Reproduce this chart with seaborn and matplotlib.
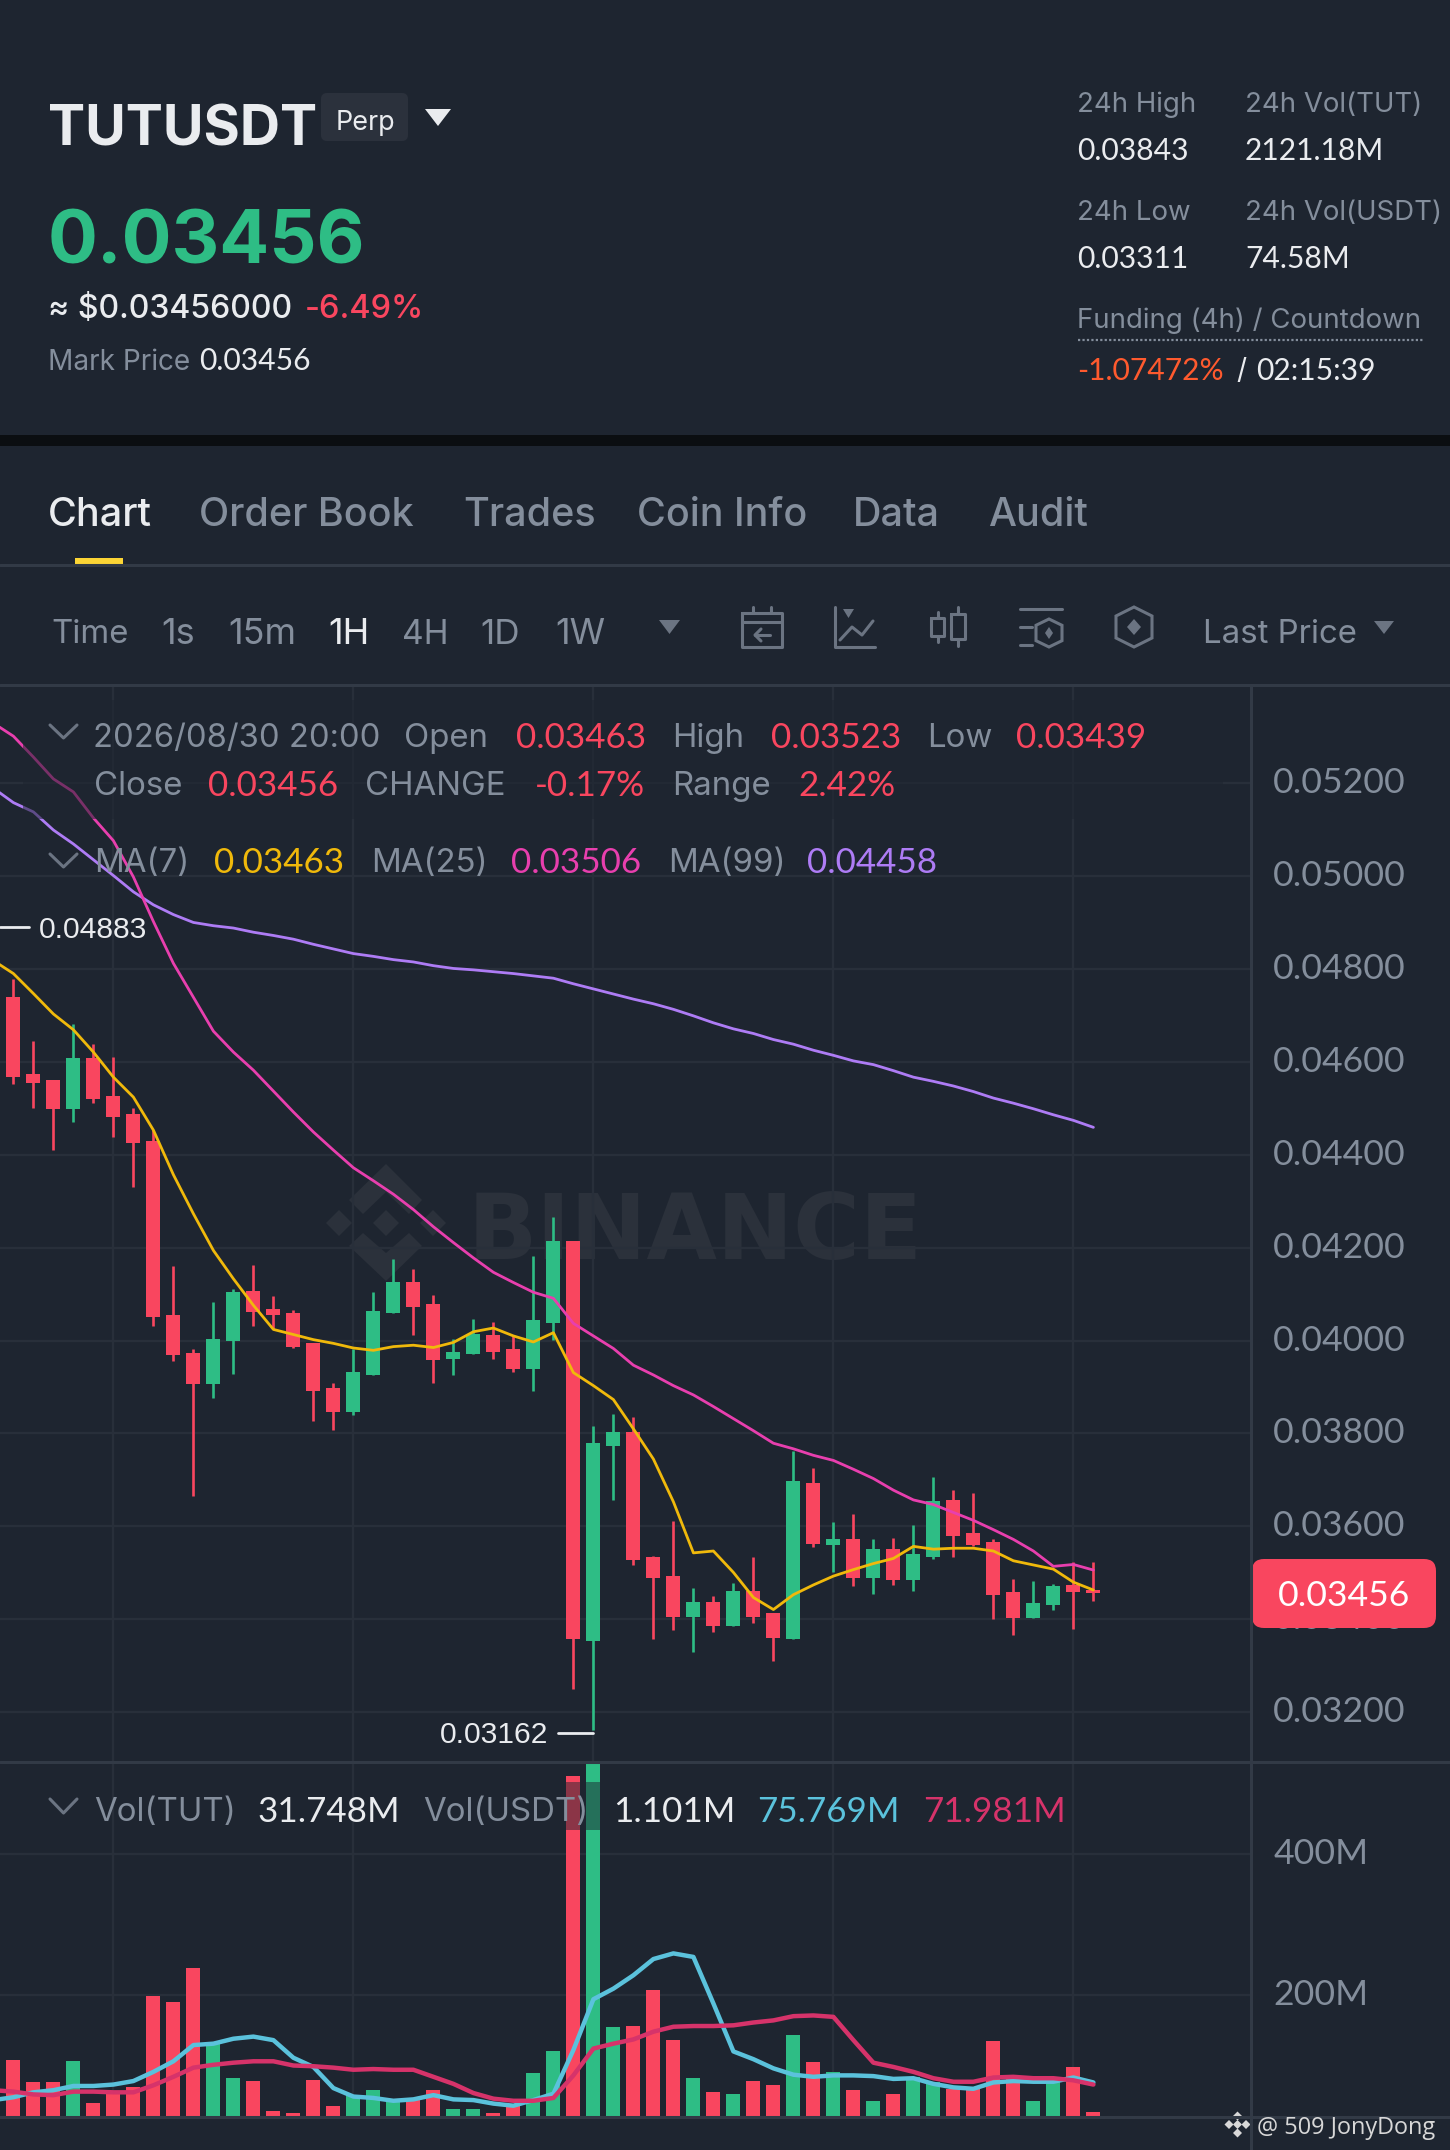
import numpy as np
import pandas as pd
import matplotlib
matplotlib.use("Agg")
import matplotlib.pyplot as plt
import seaborn as sns
from matplotlib.patches import FancyBboxPatch, Polygon, Rectangle
from matplotlib.transforms import ScaledTranslation

# Chart data -------------------------------------------------------------------
candle_idx = list(range(-1, 55))
open_prices = [0.04840, 0.04739, 0.04573, 0.04560, 0.04498, 0.04609, 0.04526, 0.04487, 0.04430, 0.04056,
               0.03973, 0.03906, 0.03998, 0.04107, 0.04069, 0.04060, 0.03994, 0.03897, 0.03846, 0.03926,
               0.04060, 0.04127, 0.04078, 0.03961, 0.03972, 0.04012, 0.03981, 0.03938, 0.04037, 0.04215,
               0.03353, 0.03773, 0.03803, 0.03534, 0.03493, 0.03404, 0.03438, 0.03385, 0.03461, 0.03413,
               0.03358, 0.03694, 0.03561, 0.03572, 0.03489, 0.03551, 0.03484, 0.03534, 0.03657, 0.03586,
               0.03566, 0.03459, 0.03403, 0.03430, 0.03474, 0.03463]
close_prices = [0.04734, 0.04567, 0.04554, 0.04498, 0.04609, 0.04521, 0.04482, 0.04426, 0.04051, 0.03970,
                0.03906, 0.04003, 0.04104, 0.04062, 0.04054, 0.03987, 0.03892, 0.03846, 0.03933, 0.04063,
                0.04127, 0.04073, 0.03958, 0.03976, 0.04015, 0.03975, 0.03938, 0.04044, 0.04215, 0.03358,
                0.03779, 0.03804, 0.03527, 0.03488, 0.03404, 0.03438, 0.03385, 0.03461, 0.03406, 0.03360,
                0.03697, 0.03562, 0.03572, 0.03489, 0.03551, 0.03484, 0.03541, 0.03655, 0.03580, 0.03560,
                0.03453, 0.03403, 0.03435, 0.03471, 0.03458, 0.03456]
high_prices = [0.04883, 0.04779, 0.04644, 0.04560, 0.04681, 0.04638, 0.04610, 0.04500, 0.04453, 0.04161,
               0.03981, 0.04084, 0.04112, 0.04163, 0.04097, 0.04065, 0.03994, 0.03908, 0.03981, 0.04104,
               0.04175, 0.04153, 0.04099, 0.04003, 0.04046, 0.04039, 0.04009, 0.04183, 0.04267, 0.04215,
               0.03816, 0.03843, 0.03835, 0.03537, 0.03611, 0.03468, 0.03450, 0.03478, 0.03534, 0.03413,
               0.03763, 0.03726, 0.03610, 0.03627, 0.03572, 0.03576, 0.03604, 0.03706, 0.03678, 0.03672,
               0.03572, 0.03486, 0.03483, 0.03476, 0.03524, 0.03523]
low_prices = [0.04734, 0.04552, 0.04501, 0.04411, 0.04470, 0.04511, 0.04439, 0.04331, 0.04031, 0.03955,
              0.03666, 0.03876, 0.03928, 0.04031, 0.04024, 0.03983, 0.03826, 0.03807, 0.03840, 0.03926,
              0.04060, 0.04012, 0.03908, 0.03925, 0.03972, 0.03961, 0.03933, 0.03891, 0.04001, 0.03251,
              0.03162, 0.03657, 0.03517, 0.03358, 0.03376, 0.03330, 0.03372, 0.03385, 0.03392, 0.03311,
              0.03358, 0.03556, 0.03501, 0.03471, 0.03455, 0.03474, 0.03461, 0.03530, 0.03534, 0.03557,
              0.03401, 0.03367, 0.03403, 0.03421, 0.03379, 0.03439]
ma7_prices = [0.04818, 0.04790, 0.04747, 0.04703, 0.04669, 0.04621, 0.04567, 0.04524, 0.04453, 0.04357,
              0.04273, 0.04194, 0.04133, 0.04076, 0.04024, 0.04013, 0.04002, 0.03994, 0.03984, 0.03979,
              0.03987, 0.03990, 0.03985, 0.03996, 0.04019, 0.04027, 0.04010, 0.03997, 0.04017, 0.03931,
              0.03903, 0.03873, 0.03810, 0.03745, 0.03653, 0.03543, 0.03547, 0.03501, 0.03447, 0.03421,
              0.03453, 0.03474, 0.03493, 0.03507, 0.03520, 0.03531, 0.03557, 0.03551, 0.03553, 0.03553,
              0.03547, 0.03526, 0.03517, 0.03508, 0.03480, 0.03463]
ma25_prices = [0.05329, 0.05301, 0.05256, 0.05209, 0.05181, 0.05125, 0.05076, 0.04998, 0.04902, 0.04812,
               0.04739, 0.04666, 0.04621, 0.04582, 0.04537, 0.04492, 0.04449, 0.04410, 0.04372, 0.04344,
               0.04315, 0.04282, 0.04245, 0.04211, 0.04178, 0.04147, 0.04125, 0.04104, 0.04091, 0.04037,
               0.04010, 0.03983, 0.03947, 0.03926, 0.03903, 0.03883, 0.03858, 0.03832, 0.03806, 0.03779,
               0.03767, 0.03753, 0.03742, 0.03723, 0.03703, 0.03678, 0.03657, 0.03647, 0.03630, 0.03613,
               0.03593, 0.03572, 0.03547, 0.03514, 0.03518, 0.03506]
ma99_prices = [0.05189, 0.05158, 0.05138, 0.05099, 0.05069, 0.05035, 0.05001, 0.04966, 0.04938, 0.04917,
               0.04900, 0.04893, 0.04888, 0.04879, 0.04872, 0.04864, 0.04853, 0.04843, 0.04833, 0.04827,
               0.04820, 0.04815, 0.04807, 0.04801, 0.04798, 0.04794, 0.04790, 0.04785, 0.04780, 0.04768,
               0.04757, 0.04746, 0.04735, 0.04725, 0.04713, 0.04699, 0.04684, 0.04671, 0.04661, 0.04648,
               0.04638, 0.04625, 0.04614, 0.04602, 0.04594, 0.04581, 0.04567, 0.04558, 0.04548, 0.04536,
               0.04522, 0.04511, 0.04499, 0.04486, 0.04474, 0.04459]
volumes = [41, 108, 77, 77, 106, 47, 60, 70, 198, 190,
           239, 131, 83, 78, 35, 32, 80, 43, 58, 65,
           51, 53, 65, 39, 39, 32, 46, 89, 121, 510,
           560, 154, 156, 207, 136, 82, 63, 59, 78, 72,
           143, 105, 91, 65, 50, 60, 84, 77, 67, 67,
           135, 84, 50, 77, 98, 34]
vol_ma_fast = [51, 55, 62, 65, 71, 71, 73, 78, 91, 106,
               129, 131, 138, 141, 136, 111, 98, 68, 56, 54,
               50, 52, 58, 52, 51, 46, 43, 51, 60, 122,
               194, 209, 228, 251, 259, 254, 188, 120, 109, 96,
               87, 84, 86, 86, 85, 81, 82, 74, 69, 67,
               76, 78, 77, 77, 83, 76]
vol_ma_slow = [65, 63, 59, 58, 63, 63, 62, 62, 72, 84,
               97, 101, 104, 106, 106, 100, 99, 97, 94, 95,
               94, 94, 84, 74, 61, 53, 50, 50, 54, 86,
               124, 131, 137, 148, 155, 156, 156, 157, 161, 164,
               170, 171, 169, 136, 104, 98, 91, 82, 77, 77,
               83, 84, 82, 82, 79, 73]
price_ticks = [0.032, 0.034, 0.036, 0.038, 0.040, 0.042, 0.044, 0.046, 0.048, 0.050, 0.052]
vol_ticks = [200, 400]
time_grid_idx = [5, 17, 29, 41, 53]

# Colours ------------------------------------------------------------------------
BG = "#1e2530"
GRID = "#282f3a"
LINE = "#323a46"
GREY = "#848e9c"
ICON = "#6b7482"
WHITE = "#eaecef"
GREEN = "#2ebd85"
RED = "#f9465f"
YELLOW = "#f0b90b"
PINK = "#e83fae"
PURPLE = "#ae7cf5"
CYAN = "#5bc2dc"
CRIMSON = "#d6336a"
NUM = "Lato"

W, H = 1450, 2150
PANE_RIGHT = 1251

sns.set_theme(style="dark", rc={"figure.facecolor": BG, "axes.facecolor": BG, "axes.grid": False})
plt.rcParams["font.family"] = ["Inter", "DejaVu Sans"]


def pane(top, bottom):
    # axes placed by pixel rows of the final picture
    ax = fig.add_axes([0, 1 - bottom / H, PANE_RIGHT / W, (bottom - top) / H])
    ax.patch.set_alpha(0)
    ax.set_zorder(1)
    sns.despine(ax=ax, left=True, bottom=True, right=True, top=True)
    return ax


def style_pane(ax, ticks, labels, lim):
    ax.set_xlim(-0.67, 61.88)
    ax.set_ylim(*lim)
    ax.set_xticks(time_grid_idx)
    ax.set_xticklabels([])
    ax.set_yticks(ticks)
    ax.set_yticklabels(labels)
    ax.yaxis.tick_right()
    ax.tick_params(axis="both", length=0)
    ax.tick_params(axis="y", labelsize=35.5 * 0.72, labelcolor=GREY, pad=16)
    # labels sit a little above their grid line
    lift = ScaledTranslation(0, 3 / 100, fig.dpi_scale_trans)
    for lab in ax.get_yticklabels():
        lab.set_family(NUM)
        lab.set_transform(lab.get_transform() + lift)
    ax.grid(True, color=GRID, lw=1.7, zorder=0)
    ax.set_axisbelow(True)
    ax.set_xlabel("")
    ax.set_ylabel("")


def txt(target, x, y, s, px, color=GREY, weight="normal", ha="left", **kw):
    return target.text(x, y, s, fontsize=px * 0.72, color=color, fontweight=weight, ha=ha, va="center_baseline", **kw)


def num(target, x, y, s, px, color=WHITE, weight="normal", ha="left"):
    return txt(target, x, y, s, px, color, weight, ha, family=NUM)


def hexagon(cx, cy, w, h):
    return [(cx, cy - h), (cx + w, cy - h * 0.55), (cx + w, cy + h * 0.55),
            (cx, cy + h), (cx - w, cy + h * 0.55), (cx - w, cy - h * 0.55)]


def diamond(cx, cy, w, h):
    return [(cx, cy - h), (cx + w, cy), (cx, cy + h), (cx - w, cy)]


fig = plt.figure(figsize=(W / 100, H / 100), dpi=100)

# Pixel canvas under the panes: watermark only ------------------------------------
under = fig.add_axes([0, 0, 1, 1])
under.set_xlim(0, W)
under.set_ylim(H, 0)
under.axis("off")
under.set_zorder(0)
MARK = "#2b313b"
for pts in ([(386, 1164), (422, 1200), (409, 1214), (386, 1192), (363, 1214), (349, 1200)],
            [(386, 1281), (422, 1246), (409, 1233), (386, 1253), (363, 1233), (349, 1246)]):
    under.add_patch(Polygon(pts, closed=True, color=MARK, lw=0))
for cx in (339, 386, 433):
    under.add_patch(Polygon(diamond(cx, 1223, 13, 13), closed=True, color=MARK, lw=0))
under.text(468, 1224, "BINANCE", fontsize=91 * 0.72, fontweight="bold", color=MARK, va="center_baseline",
           family="DejaVu Sans")

# Price pane -----------------------------------------------------------------------
ax = pane(686, 1761)
prices = pd.DataFrame({"idx": candle_idx, "open": open_prices, "high": high_prices, "low": low_prices,
                       "close": close_prices, "ma7": ma7_prices, "ma25": ma25_prices, "ma99": ma99_prices})
prices["color"] = np.where(prices["close"] >= prices["open"], GREEN, RED)
ax.vlines(prices["idx"], prices["low"], prices["high"], colors=prices["color"], lw=1.9, zorder=2)
ax.bar(prices["idx"], (prices["close"] - prices["open"]).abs(), bottom=prices[["open", "close"]].min(axis=1),
       width=0.7, color=prices["color"], linewidth=0, zorder=3)
for col, color in (("ma99", PURPLE), ("ma25", PINK), ("ma7", YELLOW)):
    sns.lineplot(data=prices, x="idx", y=col, color=color, lw=2.0, ax=ax, errorbar=None, legend=False, zorder=4)
style_pane(ax, price_ticks, [f"{t:.5f}" for t in price_ticks], (0.03095, 0.05409))

# Volume pane ----------------------------------------------------------------------
ax_vol = pane(1763, 2117)
vol_df = pd.DataFrame({"idx": candle_idx, "vol": volumes, "color": prices["color"],
                       "fast": vol_ma_fast, "slow": vol_ma_slow})
sns.barplot(data=vol_df, x="idx", y="vol", hue="color", palette={GREEN: GREEN, RED: RED}, native_scale=True,
            width=0.7, dodge=False, saturation=1, legend=False, linewidth=0, ax=ax_vol, zorder=2)
sns.lineplot(data=vol_df, x="idx", y="fast", color=CYAN, lw=3.2, ax=ax_vol, errorbar=None, legend=False, zorder=4)
sns.lineplot(data=vol_df, x="idx", y="slow", color=CRIMSON, lw=3.2, ax=ax_vol, errorbar=None, legend=False, zorder=5)
style_pane(ax_vol, vol_ticks, [f"{t}M" for t in vol_ticks], (27, 529))

# Pixel canvas over the panes: page furniture --------------------------------------
top = fig.add_axes([0, 0, 1, 1])
top.set_xlim(0, W)
top.set_ylim(H, 0)
top.axis("off")
top.patch.set_alpha(0)
top.set_zorder(2)

# legend backdrops dim whatever runs behind them
top.add_patch(Rectangle((23, 700), 1200, 119, color=BG, alpha=0.55, lw=0))
top.add_patch(Rectangle((566, 1782), 84, 48, color=BG, alpha=0.5, lw=0))

# separators
top.add_patch(Rectangle((0, 435), W, 11, color="#0b0e11", lw=0))
for y in (565, 685, 1762, 2117):
    top.plot([0, W], [y, y], color=LINE, lw=2.2)
top.plot([PANE_RIGHT, PANE_RIGHT], [686, H], color=LINE, lw=2.2)
top.add_patch(Rectangle((75, 558), 48, 9, color="#fcd535", lw=0))

# header
txt(top, 48, 125, "TUTUSDT", 55.7, WHITE, "bold")
top.add_patch(FancyBboxPatch((325, 97), 79, 40, boxstyle="round,pad=4,rounding_size=6", color="#2b313c", lw=0))
txt(top, 365, 120, "Perp", 27, WHITE, ha="center")
top.add_patch(Polygon([(425, 109), (451, 109), (438, 126)], closed=True, color=WHITE, lw=0))
txt(top, 48, 236, "0.03456", 74, GREEN, "bold")
txt(top, 48, 306, "≈ $0.03456000", 32, WHITE, "medium")
txt(top, 305, 306, "-6.49%", 32.5, RED, "medium")
txt(top, 48, 359, "Mark Price", 28)
num(top, 199, 359, "0.03456", 30)
for x, label, value in ((1077, "24h High", "0.03843"), (1245, "24h Vol(TUT)", "2121.18M")):
    txt(top, x, 102, label, 27.6)
    num(top, x, 149, value, 30)
for x, label, value in ((1077, "24h Low", "0.03311"), (1245, "24h Vol(USDT)", "74.58M")):
    txt(top, x, 210, label, 27.6)
    num(top, x, 257, value, 30)
txt(top, 1077, 318, "Funding (4h) / Countdown", 27.6)
top.plot([1078, 1423], [340, 340], color=GREY, lw=1.6, ls=(0, (1, 1)))
num(top, 1077, 368, "-1.07472%", 30, "#ff5a2e")
txt(top, 1236, 368, "/", 28, WHITE)
num(top, 1256, 368, "02:15:39", 30)

# tabs
for x, label in ((48, "Chart"), (199, "Order Book"), (463, "Trades"), (637, "Coin Info"), (853, "Data"), (988, "Audit")):
    txt(top, x, 512, label, 39.5, WHITE if label == "Chart" else GREY, "medium")

# toolbar
for x, label, size in ((51, "Time", 33), (161, "1s", 36), (228, "15m", 36), (328, "1H", 36),
                       (402, "4H", 33.5), (480, "1D", 35), (555, "1W", 36)):
    txt(top, x, 631, label, size, WHITE if label == "1H" else GREY)
txt(top, 1203, 631, "Last Price", 33)
top.add_patch(Polygon([(659, 620), (680, 620), (669.5, 634)], closed=True, color=ICON, lw=0))
top.add_patch(Polygon([(1374, 621), (1394, 621), (1384, 634)], closed=True, color=ICON, lw=0))

# toolbar icons
icon = dict(color=ICON, lw=2.2, solid_capstyle="round", solid_joinstyle="round")
top.plot([742, 782, 782, 742, 742], [613, 613, 647, 647, 613], **icon)
top.plot([742, 782], [622, 622], **icon)
top.plot([753, 753], [607, 613], **icon)
top.plot([771, 771], [607, 613], **icon)
top.plot([770, 755], [635, 635], **icon)
top.plot([761, 755, 761], [629, 635, 641], **icon)
top.plot([835, 835, 875], [607, 647, 647], **icon)
top.add_patch(Polygon([(843, 609), (854, 609), (848.5, 618)], closed=True, color=ICON, lw=0))
top.plot([840, 852, 862, 873], [640, 627, 635, 621], **icon)
top.plot([931, 944, 944, 931, 931], [618, 618, 636, 636, 618], **icon)
top.plot([938, 938], [612, 618], **icon)
top.plot([938, 938], [636, 642], **icon)
top.plot([951, 965, 965, 951, 951], [614, 614, 639, 639, 614], **icon)
top.plot([958, 958], [607, 614], **icon)
top.plot([958, 958], [639, 646], **icon)
top.plot([1020, 1062], [609, 609], **icon)
top.plot([1020, 1032], [627, 627], **icon)
top.plot([1020, 1032], [645, 645], **icon)
top.add_patch(Polygon(hexagon(1049, 633, 13, 14), closed=True, fill=False, edgecolor=ICON, lw=2.2))
top.add_patch(Polygon(diamond(1049, 633, 4, 6), closed=True, color=ICON, lw=0))
top.add_patch(Polygon(hexagon(1134, 627, 18, 20), closed=True, fill=False, edgecolor=ICON, lw=2.2))
top.add_patch(Polygon(diamond(1134, 627, 7, 8), closed=True, color=ICON, lw=0))

# legends in the panes
for y0, y1 in ((725, 738), (854, 867), (1799, 1813)):
    top.plot([50, 63.5, 77], [y0, y1, y0], color=ICON, lw=2.2)
LEG = 33
VAL = 35
txt(top, 93, 735, "2026/08/30 20:00", 32.7)
txt(top, 404, 735, "Open", LEG)
num(top, 516, 735, "0.03463", VAL, RED)
txt(top, 672, 735, "High", LEG)
num(top, 771, 735, "0.03523", VAL, RED)
txt(top, 927, 735, "Low", LEG)
num(top, 1016, 735, "0.03439", VAL, RED)
txt(top, 94, 783, "Close", LEG)
num(top, 208, 783, "0.03456", VAL, RED)
txt(top, 365, 783, "CHANGE", LEG)
num(top, 535, 783, "-0.17%", VAL, RED)
txt(top, 672, 783, "Range", LEG)
num(top, 798, 783, "2.42%", VAL, RED)
txt(top, 94, 860, "MA(7)", LEG)
num(top, 214, 860, "0.03463", VAL, YELLOW)
txt(top, 371, 860, "MA(25)", LEG)
num(top, 511, 860, "0.03506", VAL, PINK)
txt(top, 668, 860, "MA(99)", LEG)
num(top, 807, 860, "0.04458", VAL, PURPLE)
txt(top, 94, 1809, "Vol(TUT)", LEG)
num(top, 257, 1809, "31.748M", VAL)
txt(top, 423, 1809, "Vol(USDT)", LEG)
num(top, 613, 1809, "1.101M", VAL)
num(top, 757, 1809, "75.769M", VAL, CYAN)
num(top, 923, 1809, "71.981M", VAL, CRIMSON)

# high / low callouts
top.plot([0, 29], [927, 927], color=WHITE, lw=2)
txt(top, 39, 927, "0.04883", 30, WHITE, family="Liberation Sans")
top.plot([558, 593], [1733, 1733], color=WHITE, lw=2)
txt(top, 440, 1732, "0.03162", 30, WHITE, family="Liberation Sans")

# last price tag
top.add_patch(FancyBboxPatch((1260, 1567), 168, 53, boxstyle="round,pad=8,rounding_size=12", color=RED, lw=0))
num(top, 1344, 1593, "0.03456", 35.5, "white", "normal", ha="center")

# credit in the corner
for cx, cy in ((1237.5, 2116), (1229, 2124.5), (1246, 2124.5), (1237.5, 2133), (1237.5, 2124.5)):
    top.add_patch(Polygon(diamond(cx, cy, 4.5, 4.5), closed=True, color="#d8d8d8", lw=0))
txt(top, 1257, 2125, "@ 509 JonyDong", 23.5, "#d8d8d8", family="Open Sans")

fig.savefig("out.png", dpi=100, facecolor=BG)
